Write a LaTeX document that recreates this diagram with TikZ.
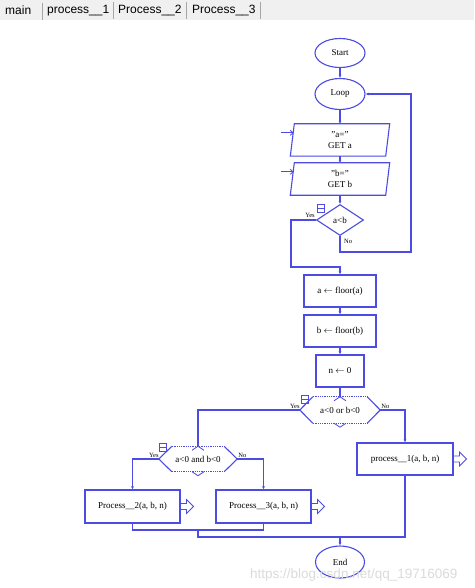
\documentclass[tikz,border=0pt]{standalone}
\usepackage{fontspec}
\setmainfont{Liberation Serif}
\newfontfamily\tabfont{Liberation Sans}
\usetikzlibrary{arrows.meta,shapes.geometric,positioning,calc}
\definecolor{flowblue}{RGB}{76,76,226}
\tikzstyle{flow}=[draw=flowblue, line width=1.1pt]
\tikzstyle{flowarrow}=[flow, -{Latex[length=3pt,width=3pt]}]
\tikzstyle{terminal}=[flow, ellipse, minimum width=50pt, minimum height=29pt, inner sep=0pt, font=\fontsize{9}{10}\selectfont]
\tikzstyle{iobox}=[rectangle, minimum width=95pt, minimum height=32pt, inner sep=0pt, align=center, font=\fontsize{9}{11}\selectfont]
\tikzstyle{procbox}=[flow, rectangle, minimum height=32pt, inner sep=0pt, font=\fontsize{9}{10}\selectfont]
\tikzstyle{testbox}=[flow, diamond, minimum width=47pt, minimum height=31pt, inner sep=0pt, font=\fontsize{9}{10}\selectfont]
\tikzstyle{decision}=[rectangle, minimum height=26pt, inner sep=0pt, font=\fontsize{9}{10}\selectfont]
\tikzstyle{branch}=[inner sep=0pt, font=\fontsize{6.5}{7}\selectfont]
\tikzstyle{tablabel}=[anchor=west, inner sep=0pt, font=\tabfont\fontsize{12}{13}\selectfont]
\tikzstyle{tabsep}=[draw=gray!70, line width=0.9pt]
\tikzstyle{thin}=[flow, line width=0.8pt]

% parallelogram around an input node
\newcommand{\drawio}[1]{%
  \draw[flow] ([xshift=2pt]#1.north west) -- ([xshift=2pt]#1.north east)
    -- ([xshift=-2pt]#1.south east) -- ([xshift=-2pt]#1.south west) -- cycle;
  \draw[thin, -{Straight Barb[length=3pt,width=5pt]}] ([xshift=-11pt,yshift=-9pt]#1.north west) -- ([xshift=1.5pt,yshift=-9pt]#1.north west);
}
% hexagon with dotted top and bottom
\newcommand{\drawdecision}[1]{%
  \coordinate (#1-l) at ([xshift=-13pt]#1.west);
  \coordinate (#1-r) at ([xshift=13pt]#1.east);
  \draw[flow] (#1.north west) -- (#1-l) -- (#1.south west);
  \draw[flow] (#1.north east) -- (#1-r) -- (#1.south east);
  \draw[flow, line width=0.8pt, densely dotted] (#1.north west) -- (#1.north east);
  \draw[flow, line width=0.8pt, densely dotted] (#1.south west) -- (#1.south east);
  \draw[thin] ([xshift=-6pt,yshift=-4pt]#1.north) -- (#1.north) -- ([xshift=6pt,yshift=-4pt]#1.north);
  \draw[thin] ([xshift=-6pt]#1.south) -- ([yshift=-4pt]#1.south) -- ([xshift=6pt]#1.south);
}
% hollow call arrow at the right of a box
\newcommand{\drawcall}[1]{%
  \draw[thin] ([yshift=3pt]#1.east) -- ++(6,0) -- ++(0,-4) -- ++(7,7) -- ++(-7,7) -- ++(0,-4) -- ++(-6,0);
}
% fold box
\newcommand{\drawfold}[1]{%
  \draw[thin] (#1) rectangle ++(7,8);
  \draw[thin] ($(#1)+(0,4)$) -- ++(7,0);
}

\begin{document}
\begin{tikzpicture}[x=1pt, y=-1pt]
    \useasboundingbox (0,0) rectangle (474,588);
    \fill[white] (0,0) rectangle (474,588);

    % tab bar
    \fill[gray!12] (0,0) rectangle (474,20);
    \node[tablabel] (tmain) at (5,10) {main};
    \node[tablabel] (tp1) at (47,11) {process\_\_1};
    \node[tablabel] (tp2) at (118,11) {Process\_\_2};
    \node[tablabel] (tp3) at (192,11) {Process\_\_3};
    \draw[tabsep] (42,3) -- (42,20);
    \draw[tabsep] (113,2) -- (113,19);
    \draw[tabsep] (186,2) -- (186,19);
    \draw[tabsep] (260,2) -- (260,19);

    % nodes
    \node[terminal] (start) at (340,53) {Start};
    \node[terminal, minimum height=31pt] (loop) at (340,94) {Loop};
    \node[iobox] (geta) at (340,140) {"a="\\GET a};
    \node[iobox] (getb) at (340,179) {"b="\\GET b};
    \node[testbox] (ab) at (340,220) {a<b};
    \node[procbox, minimum width=72pt] (fa) at (340,291) {a $\leftarrow$ floor(a)};
    \node[procbox, minimum width=72pt] (fb) at (340,331) {b $\leftarrow$ floor(b)};
    \node[procbox, minimum width=48pt] (n0) at (340,371) {n $\leftarrow$ 0};
    \node[decision, minimum width=54pt] (or) at (340,410) {a<0 or b<0};
    \node[procbox, minimum width=96pt] (p1) at (405,459) {process\_\_1(a, b, n)};
    \node[decision, minimum width=52pt, minimum height=25pt] (and) at (198,459) {a<0 and b<0};
    \node[procbox, minimum width=95pt, minimum height=33pt] (p2) at (132.5,506.5) {Process\_\_2(a, b, n)};
    \node[procbox, minimum width=95pt, minimum height=33pt] (p3) at (263.5,506.5) {Process\_\_3(a, b, n)};
    \node[terminal, minimum width=49pt, minimum height=32pt] (end) at (340,562) {End};

    \drawio{geta}
    \drawio{getb}
    \drawdecision{or}
    \drawdecision{and}
    \drawcall{p1}
    \drawcall{p2}
    \drawcall{p3}
    \drawfold{317,204}
    \drawfold{301,395}
    \drawfold{159,443}

    \coordinate (ret) at (411,252);
    \coordinate (yes1) at (291,267);
    \coordinate (j1) at (198,530);
    \coordinate (j2) at (340,537);

    % Arcs
    \draw[flowarrow] (start) -- (loop);
    \draw[flowarrow] (loop) -- (geta);
    \draw[flowarrow] (geta) -- (getb);
    \draw[flowarrow] (getb) -- (ab);
    \draw[flowarrow] (ab.south) |- (ret) |- (loop.east);
    \draw[flowarrow] (ab.west) -| (yes1) -| (fa.north);
    \draw[flowarrow] (fa) -- (fb);
    \draw[flowarrow] (fb) -- (n0);
    \draw[flow] (n0.south) -- (or.north);
    \draw[flow] (or-l) -| (and.north);
    \draw[flowarrow] (or-r) -| (p1.north);
    \draw[flowarrow] (and-l) -| (p2.north);
    \draw[flowarrow] (and-r) -| (p3.north);
    \draw[flow] (p2.south) |- (j1) -| (p3.south);
    \draw[flow] (j1) |- (j2) -| (p1.south);
    \draw[flowarrow] (j2) -- (end);
    \fill[flowblue] (j1) circle (1.2pt);
    \fill[flowblue] (j2) circle (1.2pt);
    \fill[flowblue] (340,252) circle (1.2pt);

    % branch labels
    \node[branch, above left=2pt and 1pt of ab.west] (ay) {Yes};
    \node[branch, below right=3pt and 4pt of ab.south] (an) {No};
    \node[branch, above left=1pt and 0pt of or-l] (oy) {Yes};
    \node[branch, above right=1pt and 1pt of or-r] (on) {No};
    \node[branch, above left=1pt and 0pt of and-l] (dy) {Yes};
    \node[branch, above right=1pt and 1pt of and-r] (dn) {No};

    % watermark
    \node[anchor=west, inner sep=0pt, text=gray!28, font=\tabfont\fontsize{13.5}{15}\selectfont] (wm) at (250,575) {https://blog.csdn.net/qq\_19716069};
\end{tikzpicture}
\end{document}
